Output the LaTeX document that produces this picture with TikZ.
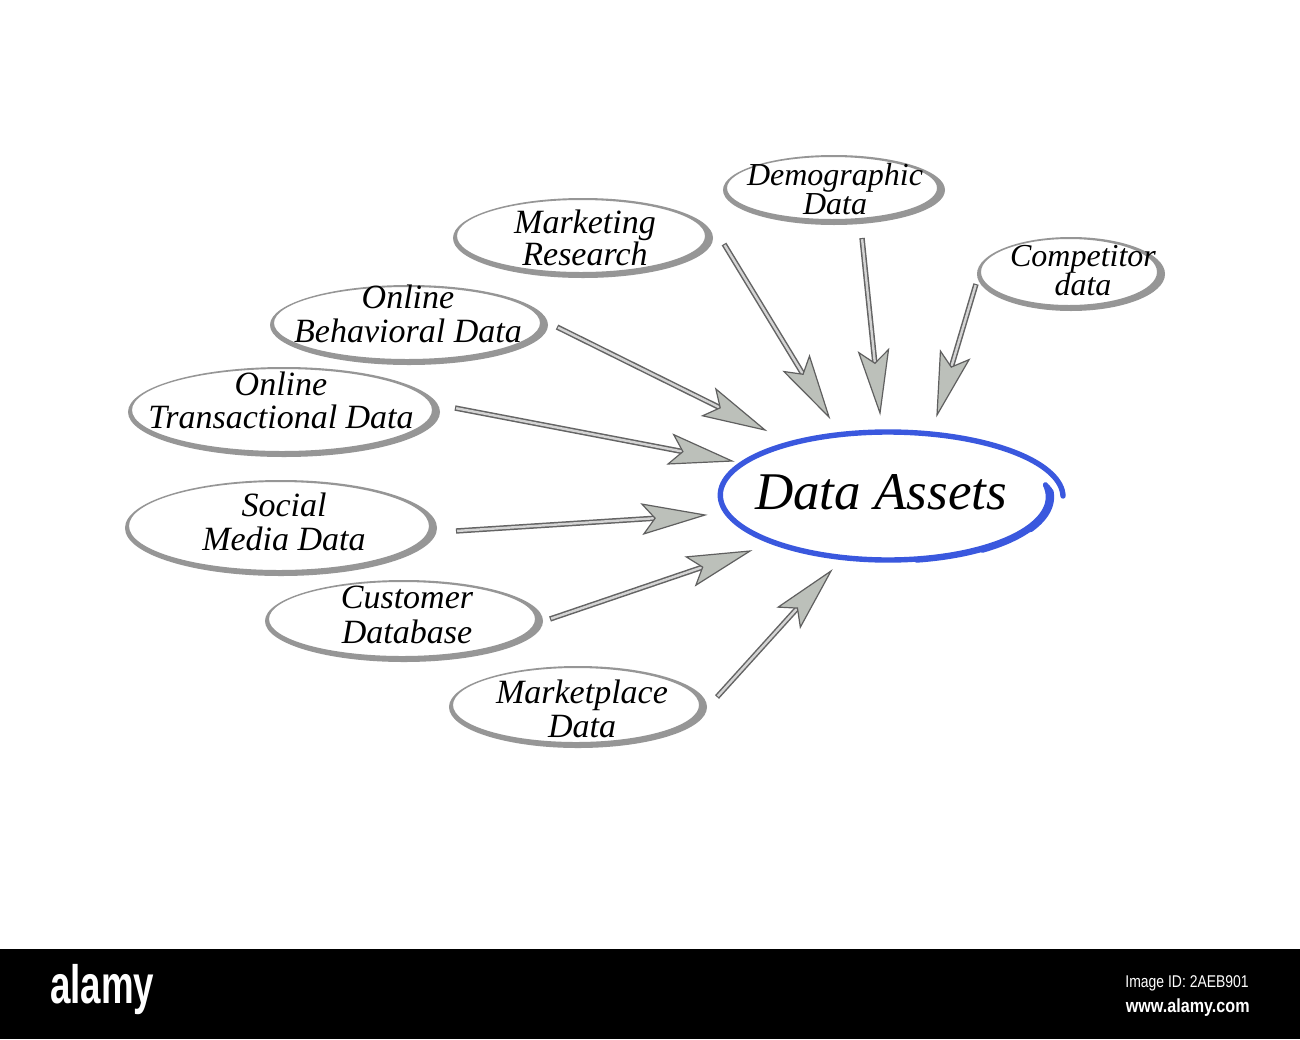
\documentclass[tikz,border=0pt]{standalone}
\usepackage{fontspec}
\setmainfont{Liberation Serif}
\newfontfamily\barfont{Liberation Sans}
\usetikzlibrary{calc}
\definecolor{ringc}{RGB}{150,150,150}
\definecolor{shaftdark}{RGB}{100,100,100}
\definecolor{shaftlight}{RGB}{212,212,212}
\definecolor{headfill}{RGB}{188,192,186}
\definecolor{headline}{RGB}{95,95,95}
\definecolor{assetblue}{RGB}{58,88,222}
\newcommand\twoline[3]{\vtop{\baselineskip=#1\lineskiplimit=-100pt\lineskip=0pt\halign{\hfil##\hfil\cr#2\cr#3\cr}}}
\newcommand\ring[4]{\fill[ringc, even odd rule] (#1,#2) ellipse [x radius=#3, y radius=#4] ({#1-2},{#2-2}) ellipse [x radius={#3-6}, y radius={#4-4}];}
\newcommand\garrow[2]{%
  \draw[shaftout] (#1) -- ($(#2)!24pt!(#1)$);
  \draw[shaftin] ($(#1)!0.6pt!(#2)$) -- ($(#2)!24.5pt!(#1)$);
  \filldraw[headstyle] (#2) -- ($(#2)!32pt!13.5:(#1)$) -- ($(#2)!25pt!(#1)$) -- ($(#2)!32pt!-13.5:(#1)$) -- cycle;}
\begin{document}
\begin{tikzpicture}[x=0.5pt,y=-0.5pt,
  lbl/.style={inner sep=0pt, anchor=base, font=\itshape\fontsize{17}{20}\selectfont},
  lblsmall/.style={inner sep=0pt, anchor=base, font=\itshape\fontsize{16}{19}\selectfont},
  shaftout/.style={draw=shaftdark, line width=2.7pt},
  shaftin/.style={draw=shaftlight, line width=1.2pt},
  headstyle/.style={fill=headfill, draw=headline, line width=0.6pt, line join=miter},
  bluering/.style={draw=assetblue, line width=2.7pt, line cap=round}]
\useasboundingbox (0,0) rectangle (1300,1039);
\fill[white] (0,0) rectangle (1300,949);

% source ellipses
\ring{834}{190}{111}{35}
\ring{583}{238}{130}{40}
\ring{1071}{274}{94}{37}
\ring{409}{325}{139}{40}
\ring{284}{412}{156}{45}
\ring{281}{528}{156}{48}
\ring{404}{621}{139}{41}
\ring{578}{707}{129}{41}

\node[lblsmall] (demo) at (835,185) {\twoline{14.5pt}{Demographic}{Data}};
\node[lbl] (mkt) at (585,233) {\twoline{16pt}{Marketing}{Research}};
\node[lblsmall] (comp) at (1083,266) {\twoline{14.5pt}{Competitor}{data}};
\node[lbl] (beh) at (408,308) {\twoline{17pt}{Online}{Behavioral Data}};
\node[lbl] (trans) at (281,395) {\twoline{16.5pt}{Online}{Transactional Data}};
\node[lbl] (soc) at (284,516) {\twoline{17pt}{Social}{Media Data}};
\node[lbl] (cust) at (407,608) {\twoline{17.5pt}{Customer}{Database}};
\node[lbl] (mplace) at (582,703) {\twoline{17pt}{Marketplace}{Data}};

% central node
\draw[bluering] plot[domain=-10:360, samples=150, smooth] ({888 + (160 + 15*(\x+10)/370)*cos(\x)}, {496 + 64*sin(\x)});
\draw[bluering] plot[domain=-8:80, samples=40, smooth] ({888 + (161 + 15*(\x+10)/370)*cos(\x)}, {496 + 65*sin(\x)});
\draw[bluering] plot[domain=-6:55, samples=30, smooth] ({888 + (162 + 15*(\x+10)/370)*cos(\x)}, {496 + 66*sin(\x)});
\draw[bluering] plot[domain=-4:30, samples=20, smooth] ({888 + (163 + 15*(\x+10)/370)*cos(\x)}, {496 + 67*sin(\x)});
\node[inner sep=0pt, anchor=base, font=\itshape\fontsize{26.5}{30}\selectfont] (da) at (881,509) {Data Assets};

% arrow end points
\coordinate (demo-o) at (862,238);  \coordinate (da-demo) at (880,413);
\coordinate (mkt-o) at (724,244);   \coordinate (da-mkt) at (829,417);
\coordinate (comp-o) at (976,284);  \coordinate (da-comp) at (937,415);
\coordinate (beh-o) at (557,327);   \coordinate (da-beh) at (765,430);
\coordinate (trans-o) at (455,408); \coordinate (da-trans) at (732,461);
\coordinate (soc-o) at (456,531);   \coordinate (da-soc) at (705,515);
\coordinate (cust-o) at (550,619);  \coordinate (da-cust) at (750,551);
\coordinate (mplace-o) at (717,697); \coordinate (da-mplace) at (831,571);

\garrow{demo-o}{da-demo}
\garrow{mkt-o}{da-mkt}
\garrow{comp-o}{da-comp}
\garrow{beh-o}{da-beh}
\garrow{trans-o}{da-trans}
\garrow{soc-o}{da-soc}
\garrow{cust-o}{da-cust}
\garrow{mplace-o}{da-mplace}

% bottom bar
\fill[black] (0,949) rectangle (1300,1039);
\node[text=white, inner sep=0pt, anchor=west, xscale=0.68, font=\barfont\bfseries\fontsize{27}{30}\selectfont] (logo) at (50,990) {alamy};
\node[text=white, inner sep=0pt, anchor=east, xscale=0.82, font=\barfont\fontsize{8.5}{10}\selectfont] (imgid) at (1249,983) {Image ID: 2AEB901};
\node[text=white, inner sep=0pt, anchor=east, xscale=0.85, font=\barfont\bfseries\fontsize{9.5}{11}\selectfont] (www) at (1250,1008) {www.alamy.com};
\end{tikzpicture}
\end{document}
